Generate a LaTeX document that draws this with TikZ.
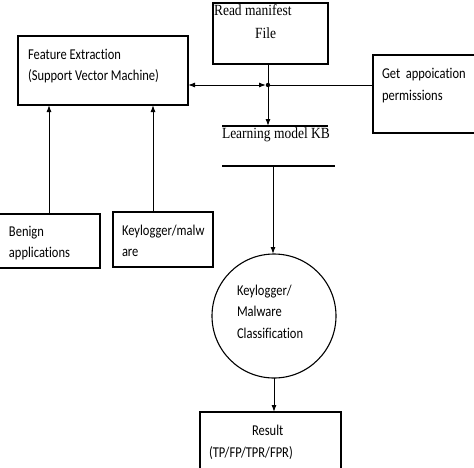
\documentclass[tikz,border=0pt]{standalone}
\usepackage{graphicx}
\usepackage{fontspec}
\setmainfont{Liberation Serif}
\newfontfamily\calfont[Ligatures=CommonOff]{Carlito}
\usetikzlibrary{arrows.meta}
\newcommand{\tallbox}[2][1.2]{\scalebox{1}[#1]{#2}}
\begin{document}
\begin{tikzpicture}[x=1pt,y=-1pt,
  box/.style={draw,line width=1.1pt,inner sep=0pt,outer sep=0pt},
  txt/.style={inner sep=0pt,outer sep=0pt,anchor=base west,font=\calfont\fontsize{12.5}{15}\selectfont},
  stxt/.style={inner sep=0pt,outer sep=0pt,anchor=base west,font=\fontsize{13.5}{16}\selectfont},
  arr/.style={-{Latex[length=7pt,width=5pt]},line width=1pt},
  dblarr/.style={{Latex[length=7pt,width=5pt]}-{Latex[length=7pt,width=5pt]},line width=1pt}]
\path[use as bounding box] (0,0) rectangle (474,467);
% boxes
\node[box,minimum width=170pt,minimum height=69pt] (fe) at (103,70.5) {};
\node[box,minimum width=115pt,minimum height=61pt] (rm) at (270.5,33.5) {};
\node[box,minimum width=107pt,minimum height=78pt] (perm) at (426.5,94) {};
\node[box,minimum width=102pt,minimum height=54pt] (ben) at (49,241) {};
\node[box,minimum width=100pt,minimum height=55pt] (klm) at (163,239.5) {};
\node[box,circle,minimum size=124pt] (cls) at (274,316) {};
\node[box,minimum width=141pt,minimum height=68pt] (res) at (270.5,446) {};
% texts
\node[stxt] (rmA) at (214,15) {\tallbox[1.15]{Read manifest}};
\node[stxt] (rmB) at (255,38) {\tallbox[1.15]{File}};
\node[stxt] (kbT) at (222,138) {\tallbox[1.15]{Learning model KB}};
\node[txt] (feA) at (28,59) {\tallbox{Feature Extraction}};
\node[txt] (feB) at (28,80) {\tallbox{(Support Vector Machine)}};
\node[txt] (permA) at (382,78) {\tallbox{Get~ appoication}};
\node[txt] (permB) at (382,100) {\tallbox{permissions}};
\node[txt] (benA) at (9,236) {\tallbox{Benign}};
\node[txt] (benB) at (9,257) {\tallbox{applications}};
\node[txt] (klmA) at (122,235) {\tallbox{Keylogger/malw}};
\node[txt] (klmB) at (122,256) {\tallbox{are}};
\node[txt] (clsA) at (237,295) {\tallbox{Keylogger/}};
\node[txt] (clsB) at (237,316) {\tallbox{Malware}};
\node[txt] (clsC) at (237,338) {\tallbox{Classification}};
\node[txt] (resA) at (252,435) {\tallbox{Result}};
\node[txt] (resB) at (209,457) {\tallbox{(TP/FP/TPR/FPR)}};
% knowledge base store
\coordinate (jn) at (268,85);
\coordinate (kbtop) at (268,126);
\coordinate (kbbot) at (273,166);
\draw[line width=1.1pt] (222,126) -- (328,126);
\draw[line width=1.1pt] (222,166) -- (335,166);
% connectors
\draw[dblarr] (fe.east |- jn) -- ([xshift=-2pt]jn);
\draw[line width=1pt] (jn) -- (jn -| perm.west);
\fill (jn) circle (2.2pt);
\draw[arr] (jn |- rm.south) -- (kbtop);
\draw[arr] (kbbot) -- (kbbot |- cls.north);
\draw[arr] (cls.south) -- (cls.south |- res.north);
\draw[arr] (ben.north) -- (ben.north |- fe.south);
\draw[arr] ([xshift=-10pt]klm.north) -- ([xshift=-10pt]klm.north |- fe.south);
\end{tikzpicture}
\end{document}
